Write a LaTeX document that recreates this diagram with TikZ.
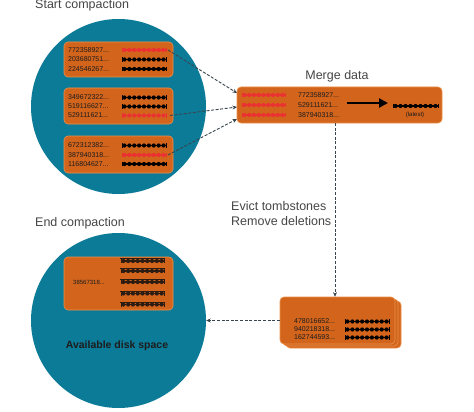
\documentclass[tikz,border=0pt]{standalone}
\usepackage{fontspec}
\setmainfont{Liberation Sans}
\usetikzlibrary{arrows.meta}
\definecolor{tealc}{RGB}{12,123,152}
\definecolor{orng}{RGB}{210,100,28}
\definecolor{orngl}{RGB}{235,145,75}
\definecolor{redd}{RGB}{235,50,50}
\definecolor{ink}{RGB}{28,28,28}
\definecolor{ttl}{RGB}{70,70,70}
\definecolor{connc}{RGB}{58,70,78}
\definecolor{strk}{RGB}{45,28,18}
% dotted record glyph: x1, x2, y, colour
\newcommand{\dotrow}[4]{%
  \draw[#4, line width=1.4pt] (#1,#3) -- (#2,#3);
  \draw[#4, line width=1pt] (#1,#3-2.3) -- (#1,#3+2.3) (#2,#3-2.3) -- (#2,#3+2.3);
  \foreach \k in {0,...,8} {\fill[#4] ({#1+(#2-#1)*(\k+0.5)/9},#3) circle [radius=2.1pt];}
}
\newcommand{\strikerow}[3]{%
  \dotrow{#1}{#2}{#3}{strk}
  \draw[strk, line width=1pt] (#1-1,#3-2.2) -- (#2+1,#3-2.2);
}
\tikzset{
  disk/.style={circle, fill=tealc, minimum size=175pt, inner sep=0pt},
  recbox/.style={rounded corners=4pt, fill=orng, draw=orngl, line width=0.6pt, inner sep=0pt},
  rowtxt/.style={font=\fontsize{7}{8}\selectfont, text=ink, anchor=west, inner sep=0pt},
  ttltxt/.style={font=\fontsize{12.5}{15}\selectfont, text=ttl, inner sep=0pt},
  conn/.style={draw=connc, line width=0.9pt, dash pattern=on 3pt off 1.6pt, -{Stealth[length=4.5pt,width=4pt]}}
}
\begin{document}
\begin{tikzpicture}[x=1pt,y=-1pt]
\useasboundingbox (0,0) rectangle (474,412);
\fill[white] (0,0) rectangle (474,412);

% titles
\node[ttltxt, anchor=west] (tstart) at (35,5.5) {Start compaction};
\node[ttltxt, anchor=west] (tend) at (35,223) {End compaction};
\node[ttltxt] (tmerge) at (337,76) {Merge data};
\node[ttltxt, anchor=north west, align=left] (tevict) at (231,201.5) {Evict tombstones\\Remove deletions};

% disks
\node[disk] (topc) at (118.5,106.5) {};
\node[disk] (botc) at (118.5,320.5) {};

% top boxes
\node[recbox, minimum width=109pt, minimum height=35pt] (b1) at (118.5,59.5) {};
\node[recbox, minimum width=109pt, minimum height=36pt] (b2) at (118.5,106) {};
\node[recbox, minimum width=109pt, minimum height=37pt] (b3) at (118.5,154.5) {};

\node[rowtxt] (t11) at (68,50) {772358927...};
\node[rowtxt] (t12) at (68,59.5) {203680751...};
\node[rowtxt] (t13) at (68,69) {224546267...};
\dotrow{122}{166}{50}{redd}
\dotrow{122}{166}{59.5}{black}
\dotrow{122}{166}{69}{black}

\node[rowtxt] (t21) at (68,97.5) {349672322...};
\node[rowtxt] (t22) at (68,106.5) {519116627...};
\node[rowtxt] (t23) at (68,115.5) {529111621...};
\dotrow{122}{166}{97.5}{black}
\dotrow{122}{166}{106.5}{black}
\dotrow{122}{166}{115.5}{redd}

\node[rowtxt] (t31) at (68,145.5) {672312382...};
\node[rowtxt] (t32) at (68,155) {387940318...};
\node[rowtxt] (t33) at (68,164) {116804627...};
\dotrow{122}{166}{145.5}{black}
\dotrow{122}{166}{155}{redd}
\dotrow{122}{166}{164}{black}

% merge box
\node[recbox, minimum width=205pt, minimum height=36pt] (merge) at (339.5,105) {};
\dotrow{242}{285}{95}{redd}
\dotrow{242}{285}{105}{redd}
\dotrow{242}{285}{115}{redd}
\node[rowtxt] (m1) at (298,95) {772358927...};
\node[rowtxt] (m2) at (298,105) {529111621...};
\node[rowtxt] (m3) at (298,115) {387940318...};
\coordinate (arrs) at (347,103);
\coordinate (arre) at (388,103);
\draw[black, line width=2.8pt, -{Triangle[length=9pt,width=9pt]}] (arrs) -- (arre);
\dotrow{393}{438}{106}{black}
\node[font=\fontsize{6}{7}\selectfont, text=ink, inner sep=0pt] (latest) at (415,114.5) {(latest)};

% output stack
\node[recbox, minimum width=115pt, minimum height=47pt] (outb2) at (343.5,324.5) {};
\node[recbox, minimum width=115pt, minimum height=47pt] (outb1) at (340.5,322.5) {};
\node[recbox, minimum width=115pt, minimum height=47pt] (out) at (337.5,320.5) {};
\node[rowtxt] (o1) at (294,321.5) {478016652...};
\node[rowtxt] (o2) at (294,329.5) {940218318...};
\node[rowtxt] (o3) at (294,337.5) {162744593...};
\dotrow{345}{389}{321.5}{black}
\dotrow{345}{389}{329.5}{black}
\dotrow{345}{389}{337.5}{black}

% end box
\node[recbox, minimum width=109pt, minimum height=53pt] (endb) at (118.5,283.5) {};
\node[rowtxt, font=\fontsize{6}{7}\selectfont] (e1) at (73,282) {38567318...};
\strikerow{121}{164}{261}
\strikerow{121}{164}{271}
\strikerow{121}{164}{282}
\strikerow{121}{164}{293.5}
\strikerow{121}{164}{304.5}
\node[font=\bfseries\fontsize{10.5}{12}\selectfont, text=ink, inner sep=0pt] (avail) at (117,346) {Available disk space};

% connectors
\coordinate (s1) at (168,50);
\coordinate (s2) at (170,115.5);
\coordinate (s3) at (168,155);
\coordinate (e1t) at (237,93);
\coordinate (e2t) at (237,107);
\coordinate (e3t) at (237,119);
\draw[conn] (s1) -- (e1t);
\draw[conn] (s2) -- (e2t);
\draw[conn] (s3) -- (e3t);
\coordinate (vtop) at (335,123);
\draw[conn] (vtop) -- (vtop |- out.north);
\draw[conn] (out.west) -- (botc.east);
\end{tikzpicture}
\end{document}
